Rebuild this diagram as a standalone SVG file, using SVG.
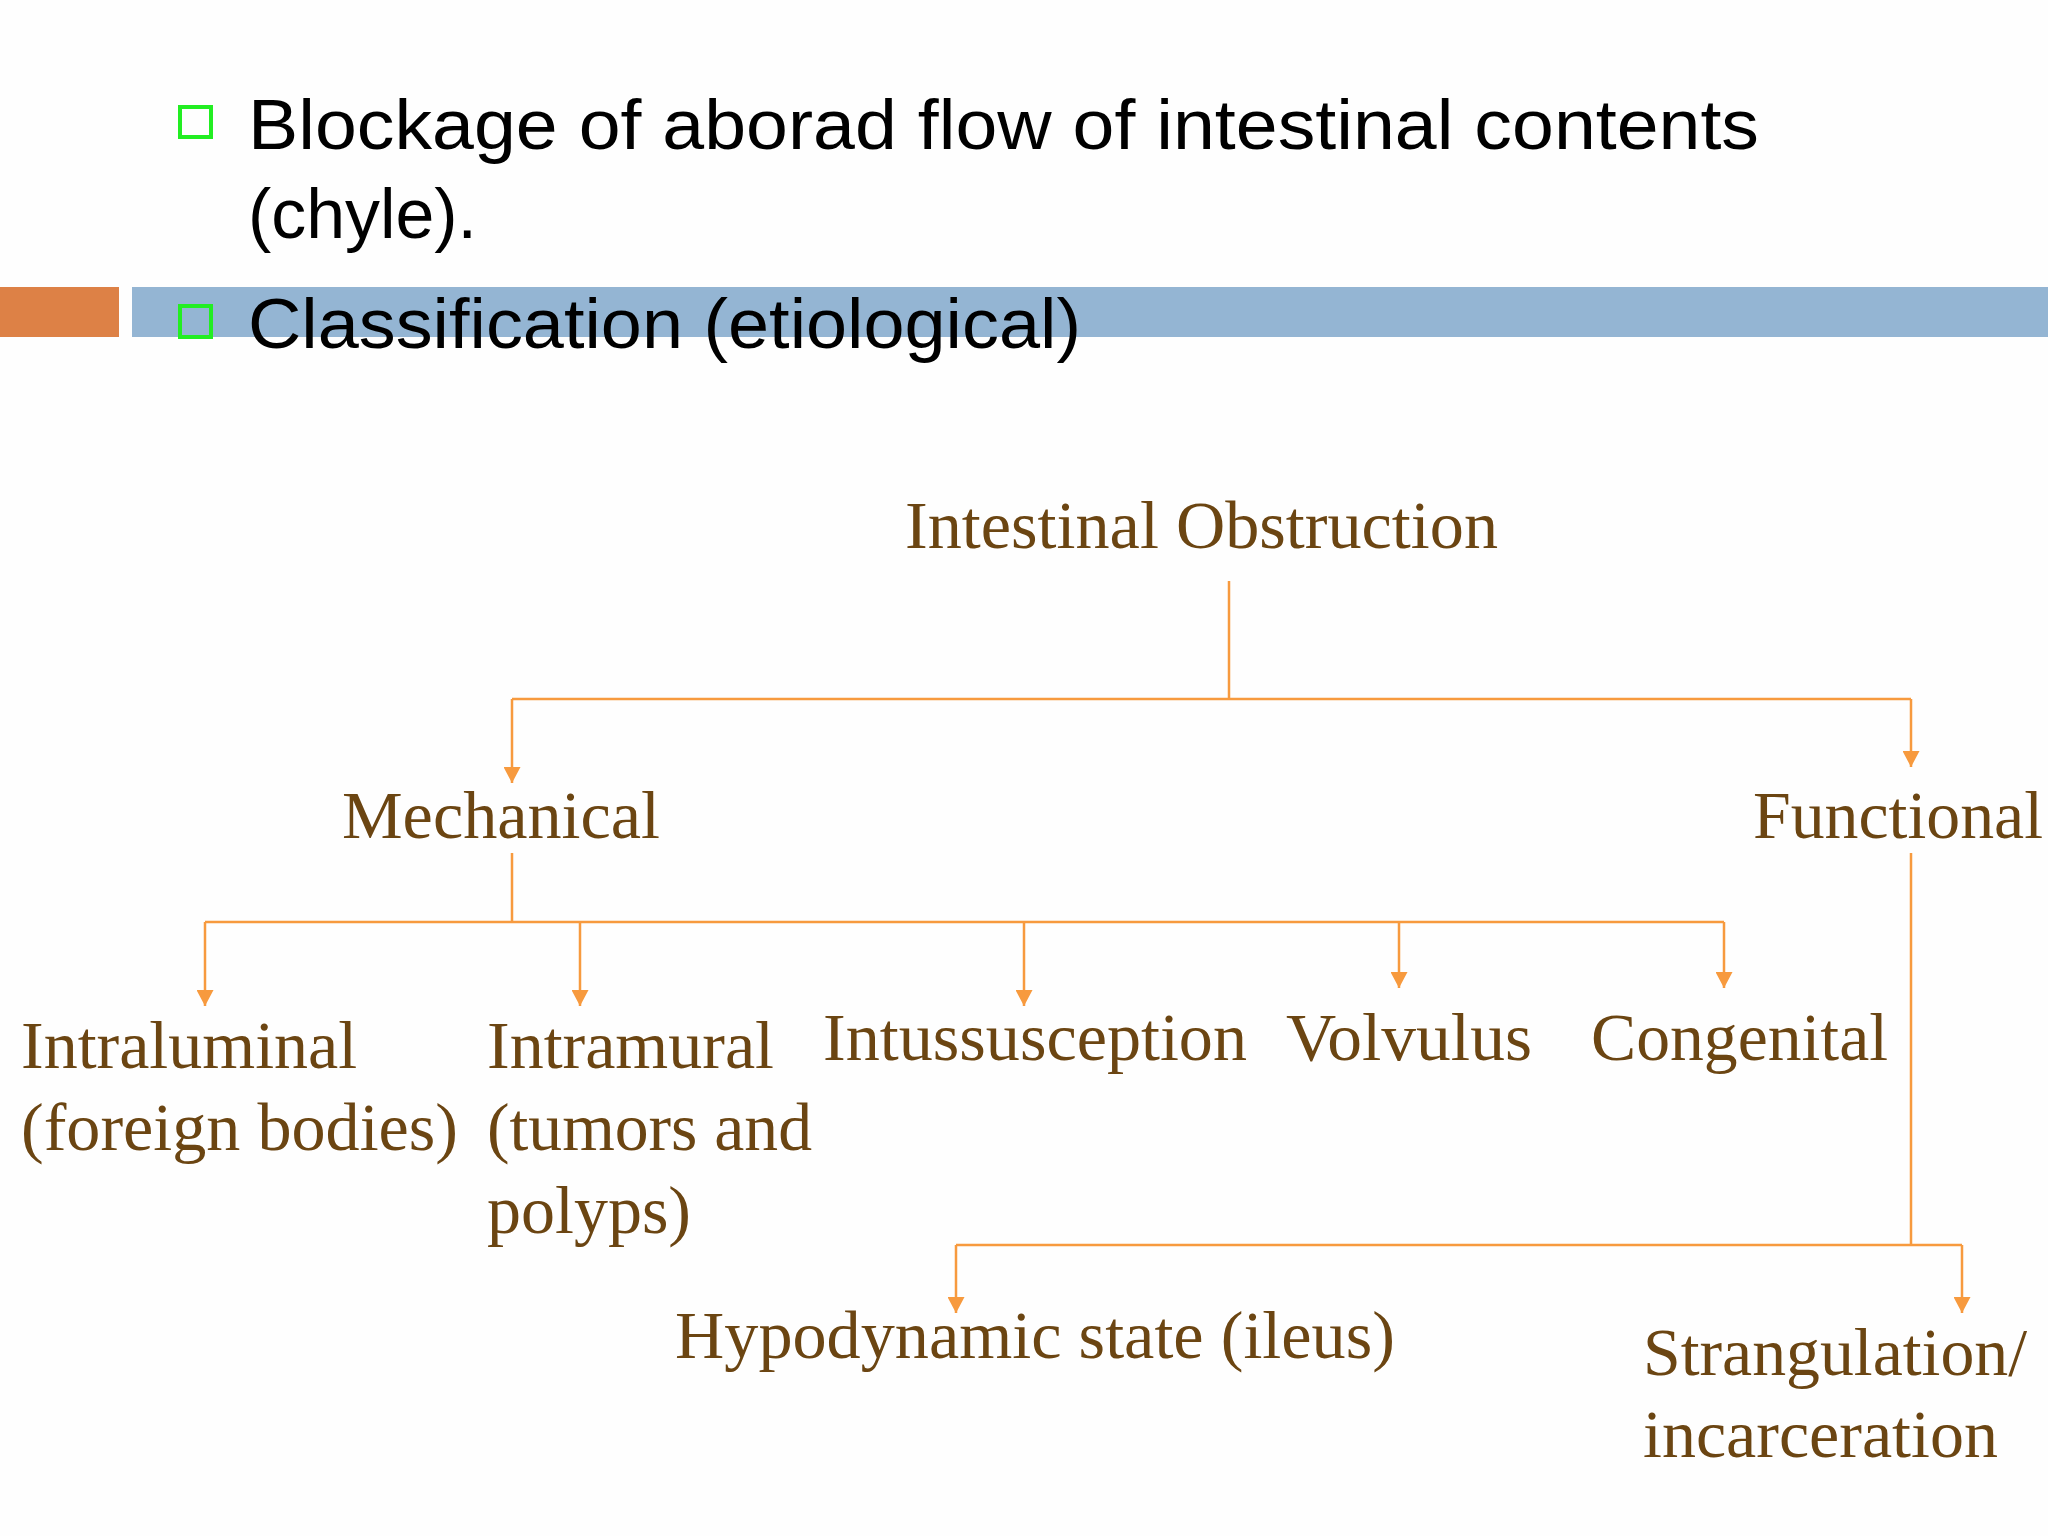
<svg xmlns="http://www.w3.org/2000/svg" width="2048" height="1536" viewBox="0 0 2048 1536">
<defs>
<style>
.hdr{font-family:"Liberation Sans","DejaVu Sans",sans-serif;font-size:70px;fill:#000}
.lbl{font-family:"Liberation Serif","Times New Roman",serif;font-size:68px;fill:#6b4512}
.ln{stroke:#f79a3e;stroke-width:2.5;fill:none}
.bullet{fill:none;stroke:#22ee22;stroke-width:4}
</style>
<marker id="ah" markerWidth="16" markerHeight="17" refX="16" refY="8.5" orient="auto" markerUnits="userSpaceOnUse" viewBox="0 0 16 17">
<path d="M0,0 L16,8.5 L0,17 Z" fill="#f79a3e"/>
</marker>
</defs>
<rect width="2048" height="1536" fill="#fefefe"/>
<g id="header">
<rect x="0" y="287" width="119" height="50" fill="#dd8146"/>
<rect x="132" y="287" width="1916" height="50" fill="#94b5d3"/>
<rect class="bullet" x="180" y="107" width="31" height="30"/>
<text class="hdr" x="248" y="149" textLength="1511" lengthAdjust="spacingAndGlyphs">Blockage of aborad flow of intestinal contents</text>
<text class="hdr" x="248" y="238" textLength="229" lengthAdjust="spacingAndGlyphs">(chyle).</text>
<rect class="bullet" x="180" y="306" width="31" height="31"/>
<text class="hdr" x="248" y="348" textLength="833" lengthAdjust="spacingAndGlyphs">Classification (etiological)</text>
</g>
<g id="connectors">
<path class="ln" d="M1229,581 V699"/>
<path class="ln" d="M512,699 H1911"/>
<path class="ln" d="M512,699 V783" marker-end="url(#ah)"/>
<path class="ln" d="M1911,699 V767" marker-end="url(#ah)"/>
<path class="ln" d="M512,853 V922"/>
<path class="ln" d="M205,922 H1724"/>
<path class="ln" d="M205,922 V1006" marker-end="url(#ah)"/>
<path class="ln" d="M580,922 V1006" marker-end="url(#ah)"/>
<path class="ln" d="M1024,922 V1006" marker-end="url(#ah)"/>
<path class="ln" d="M1399,922 V988" marker-end="url(#ah)"/>
<path class="ln" d="M1724,922 V988" marker-end="url(#ah)"/>
<path class="ln" d="M1911,853 V1245"/>
<path class="ln" d="M956,1245 H1962"/>
<path class="ln" d="M956,1245 V1313" marker-end="url(#ah)"/>
<path class="ln" d="M1962,1245 V1313" marker-end="url(#ah)"/>
</g>
<g id="root"><text class="lbl" x="905" y="548" textLength="593" lengthAdjust="spacingAndGlyphs">Intestinal Obstruction</text></g>
<g id="mechanical"><text class="lbl" x="342" y="838" textLength="318" lengthAdjust="spacingAndGlyphs">Mechanical</text></g>
<g id="functional"><text class="lbl" x="1753" y="838" textLength="290" lengthAdjust="spacingAndGlyphs">Functional</text></g>
<g id="intraluminal">
<text class="lbl" x="21" y="1068">Intraluminal</text>
<text class="lbl" x="21" y="1150" textLength="437" lengthAdjust="spacingAndGlyphs">(foreign bodies)</text>
</g>
<g id="intramural">
<text class="lbl" x="487" y="1068">Intramural</text>
<text class="lbl" x="487" y="1150" textLength="325" lengthAdjust="spacingAndGlyphs">(tumors and</text>
<text class="lbl" x="487" y="1233">polyps)</text>
</g>
<g id="intussusception"><text class="lbl" x="823" y="1060" textLength="424" lengthAdjust="spacingAndGlyphs">Intussusception</text></g>
<g id="volvulus"><text class="lbl" x="1286" y="1060" textLength="246" lengthAdjust="spacingAndGlyphs">Volvulus</text></g>
<g id="congenital"><text class="lbl" x="1591" y="1060" textLength="297" lengthAdjust="spacingAndGlyphs">Congenital</text></g>
<g id="hypodynamic"><text class="lbl" x="675" y="1358" textLength="720" lengthAdjust="spacingAndGlyphs">Hypodynamic state (ileus)</text></g>
<g id="strangulation">
<text class="lbl" x="1643" y="1375" textLength="384" lengthAdjust="spacingAndGlyphs">Strangulation/</text>
<text class="lbl" x="1643" y="1457">incarceration</text>
</g>
</svg>
